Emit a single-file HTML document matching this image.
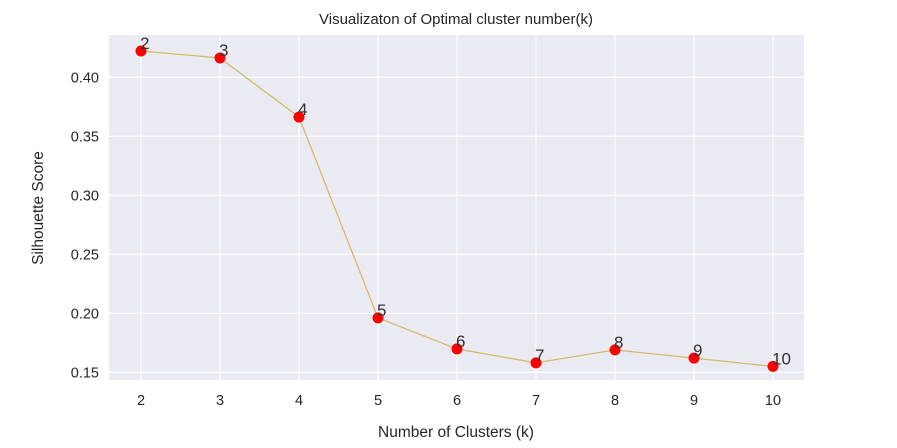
<!DOCTYPE html>
<html><head><meta charset="utf-8"><style>
body{margin:0;background:#fff;}
svg{display:block;font-family:"Liberation Sans",sans-serif;}
</style></head><body>
<svg id="chart" width="897" height="448">
<rect x="109" y="35" width="695" height="345" fill="#eaeaf2"/>
<g id="grid"></g><g id="ticks"></g><g id="series"></g>
<text x="456" y="24" text-anchor="middle" font-size="15" fill="#262626">Visualizaton of Optimal cluster number(k)</text>
<text x="456" y="437" text-anchor="middle" font-size="15.5" fill="#262626">Number of Clusters (k)</text>
<text transform="translate(43,208) rotate(-90)" text-anchor="middle" font-size="15.5" fill="#262626">Silhouette Score</text>
</svg>
<script>
const categories=[2,3,4,5,6,7,8,9,10];
const scores=[0.4223,0.4164,0.3663,0.1961,0.1698,0.158,0.169,0.162,0.155];
const yTicks=[0.15,0.20,0.25,0.30,0.35,0.40];
const yTickLabels=["0.15","0.20","0.25","0.30","0.35","0.40"];
const NS="http://www.w3.org/2000/svg";
const xs=k=>141+(k-2)*79;
const ys=v=>77.3+(0.40-v)/0.05*59;
function mk(t,a,p){const e=document.createElementNS(NS,t);for(const k in a)e.setAttribute(k,a[k]);p.appendChild(e);return e;}
const g=document.getElementById('grid'),t=document.getElementById('ticks'),s=document.getElementById('series');
categories.forEach(k=>{
 const l=mk('line',{x1:xs(k),x2:xs(k),y1:35,y2:380,stroke:'#fff','stroke-width':1.2},g);
 
 
 const tx=mk('text',{x:xs(k),y:405,'text-anchor':'middle','font-size':14.5,fill:'#262626'},t);
 tx.textContent=k;
 
 
});
yTicks.forEach((v,i)=>{
 const l=mk('line',{x1:109,x2:804,y1:ys(v),y2:ys(v),stroke:'#fff','stroke-width':1.2},g);
 
 
 const tx=mk('text',{x:99,y:ys(v)+5,'text-anchor':'end','font-size':14.5,fill:'#262626'},t);
 tx.textContent=yTickLabels[i];
 
 
});
const pl=mk('polyline',{points:categories.map((k,i)=>xs(k)+','+ys(scores[i])).join(' '),fill:'none',stroke:'#d4b96c','stroke-width':1.3},s);


categories.forEach((k,i)=>{
 const c=mk('circle',{cx:xs(k),cy:ys(scores[i]),r:5.5,fill:'#ff0000'},s);
 
 
 const tx=mk('text',{x:xs(k)-1,y:ys(scores[i])-2,'font-size':17,fill:'#333'},s);
 tx.textContent=k;
 
 
});
</script>
</body></html>
